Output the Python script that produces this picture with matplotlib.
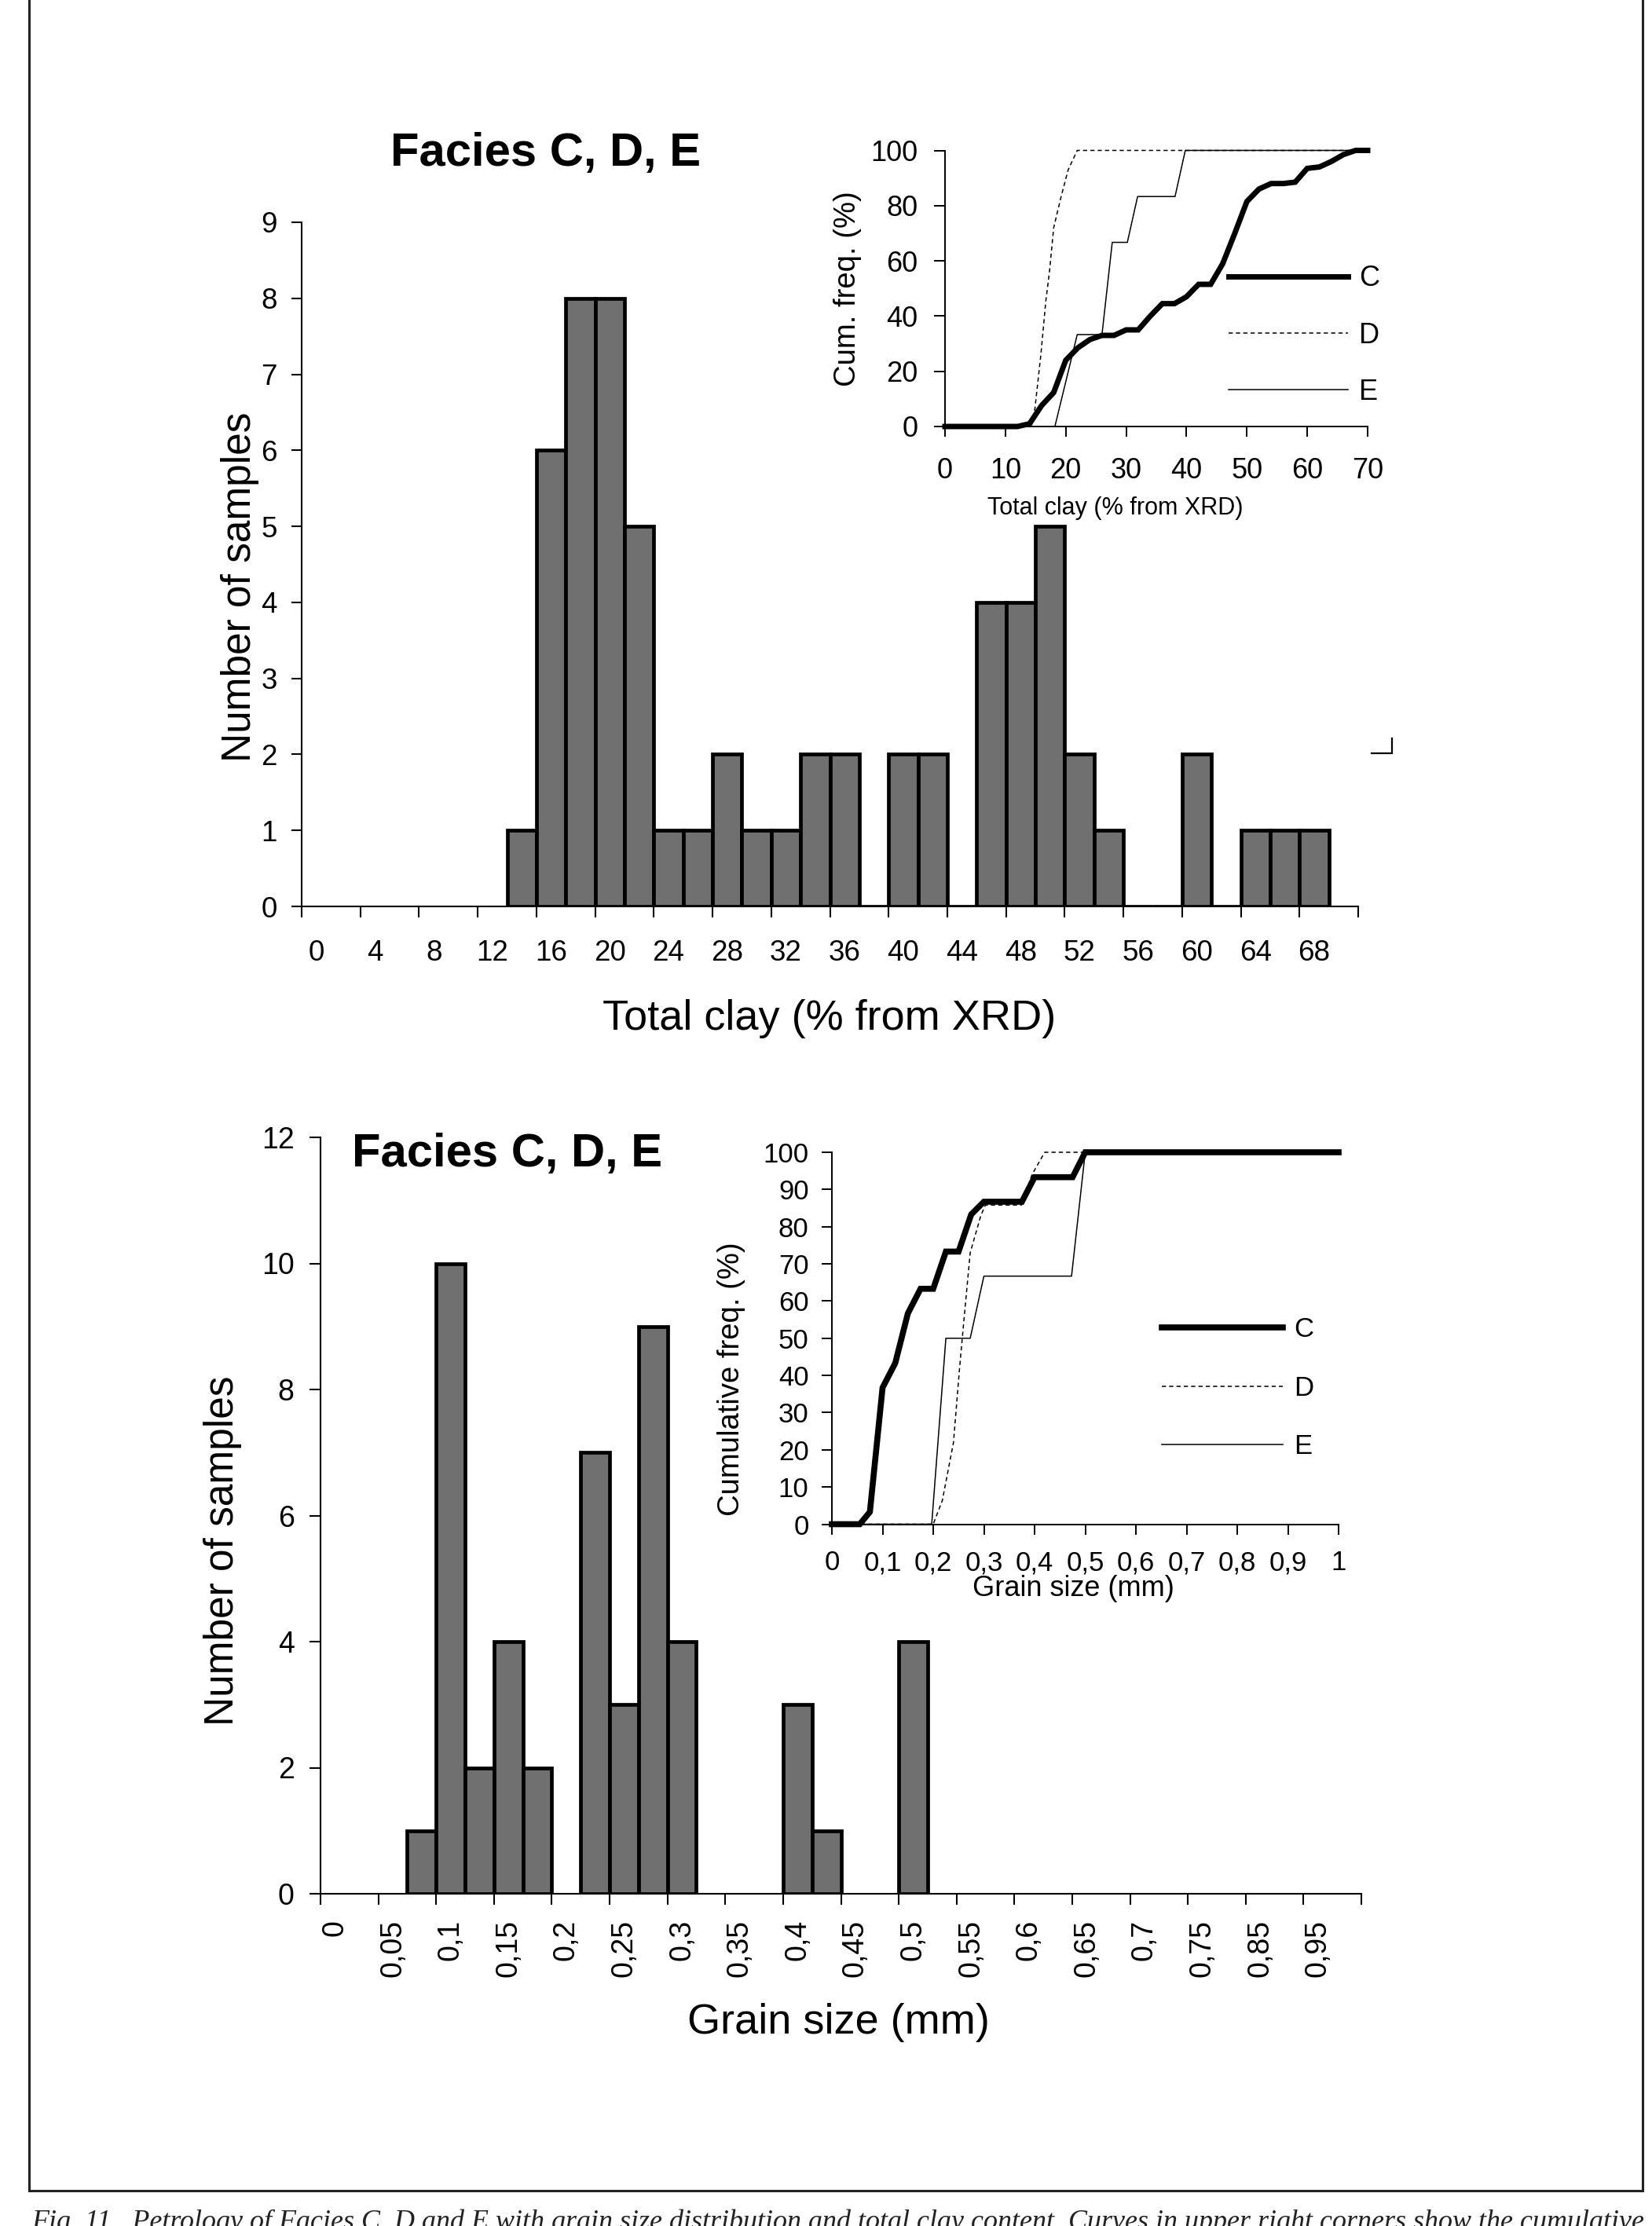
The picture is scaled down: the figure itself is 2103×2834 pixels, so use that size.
import numpy as np
import matplotlib
matplotlib.use('Agg')
import matplotlib.pyplot as plt
from matplotlib.lines import Line2D

# ---------------- data ----------------
clay_bin_starts = [14, 16, 18, 20, 22, 24, 26, 28, 30, 32, 34, 36, 38, 40, 42, 44,
                   46, 48, 50, 52, 54, 56, 58, 60, 62, 64, 66, 68]
clay_counts = [1, 6, 8, 8, 5, 1, 1, 2, 1, 1, 2, 2, 0, 2, 2, 0,
               4, 4, 5, 2, 1, 0, 0, 2, 0, 1, 1, 1]
clay_bin_width = 2
clay_tick_labels = ['0', '4', '8', '12', '16', '20', '24', '28', '32', '36', '40',
                    '44', '48', '52', '56', '60', '64', '68']

grain_bin_starts = [0.075, 0.1, 0.125, 0.15, 0.175, 0.225, 0.25, 0.275, 0.3,
                    0.4, 0.425, 0.5]
grain_counts = [1, 10, 2, 4, 2, 7, 3, 9, 4, 3, 1, 4]
grain_bin_width = 0.025
grain_tick_labels = ['0', '0,05', '0,1', '0,15', '0,2', '0,25', '0,3', '0,35', '0,4',
                     '0,45', '0,5', '0,55', '0,6', '0,65', '0,7', '0,75', '0,85', '0,95']

# cumulative curves, clay inset
clay_C_x = [0, 12, 14, 16, 18, 20, 22, 24, 26, 28, 30, 32, 34, 36, 38, 40, 42, 44,
            46, 48, 50, 52, 54, 56, 58, 60, 62, 64, 66, 68, 70]
clay_C_y = [0, 0, 1, 7.6, 12.3, 24, 28.5, 31.5, 33, 33, 35, 35, 40, 44.5, 44.5, 47,
            51.5, 51.5, 59, 70, 81.5, 86, 88, 88, 88.5, 93.5, 94, 96, 98.5, 100, 100]
clay_D_x = [0, 14.3, 14.9, 15.9, 16.7, 17.3, 18.0, 19.2, 20.4, 21.9, 70]
clay_D_y = [0, 0, 6.6, 26.5, 45.5, 56, 72, 83, 93, 100, 100]
clay_E_x = [0, 18.2, 21.9, 26, 27.7, 30.2, 31.9, 38.1, 39.8, 70]
clay_E_y = [0, 0, 33.3, 33.3, 66.7, 66.7, 83.3, 83.3, 100, 100]
clay_inset_xticks = [0, 10, 20, 30, 40, 50, 60, 70]
clay_inset_yticks = [0, 20, 40, 60, 80, 100]

# cumulative curves, grain inset
grain_C_x = [0, 0.055, 0.075, 0.1, 0.125, 0.15, 0.175, 0.2, 0.225, 0.25, 0.275, 0.3,
             0.375, 0.4, 0.475, 0.5, 1.0]
grain_C_y = [0, 0, 3.3, 36.7, 43.3, 56.7, 63.3, 63.3, 73.3, 73.3, 83.3, 86.7,
             86.7, 93.3, 93.3, 100, 100]
grain_D_x = [0, 0.2, 0.218, 0.24, 0.252, 0.26, 0.273, 0.294, 0.303, 0.374, 0.395, 0.42, 1.0]
grain_D_y = [0, 0, 6.4, 22, 42, 54, 73, 83, 85.8, 85.8, 94, 100, 100]
grain_E_x = [0, 0.197, 0.225, 0.273, 0.3, 0.473, 0.5, 1.0]
grain_E_y = [0, 0, 50, 50, 66.7, 66.7, 100, 100]
grain_inset_xticks = [0, 0.1, 0.2, 0.3, 0.4, 0.5, 0.6, 0.7, 0.8, 0.9, 1.0]
grain_inset_xlabels = ['0', '0,1', '0,2', '0,3', '0,4', '0,5', '0,6', '0,7', '0,8', '0,9', '1']
grain_inset_yticks = [0, 10, 20, 30, 40, 50, 60, 70, 80, 90, 100]

series_names = ['C', 'D', 'E']

caption = ("Fig. 11.  Petrology of Facies C, D and E with grain size distribution and total "
           "clay content. Curves in upper right corners show the cumulative")

# ---------------- layout helpers ----------------
W, H = 2103, 2834
plt.rcParams['font.family'] = ['Liberation Sans', 'DejaVu Sans']
fig = plt.figure(figsize=(W / 100, H / 100), dpi=100)
fig.patch.set_facecolor('white')


def rect(L, R, T, B):
    return [L / W, 1 - B / H, (R - L) / W, (B - T) / H]


BAR_FC = '#707070'


def style_axes(ax, lw=1.5):
    for s in ['top', 'right']:
        ax.spines[s].set_visible(False)
    for s in ['left', 'bottom']:
        ax.spines[s].set_linewidth(lw)
        ax.spines[s].set_color('black')
    ax.patch.set_alpha(0)


# ---------------- top histogram ----------------
ax1 = fig.add_axes(rect(384, 1729, 283, 1154))
style_axes(ax1)
ax1.bar(clay_bin_starts, clay_counts, width=clay_bin_width, align='edge',
        color=BAR_FC, edgecolor='black', linewidth=3.4, zorder=3)
ax1.set_xlim(0, 72)
ax1.set_ylim(0, 9)
ax1.set_xticks(np.arange(0, 73, 4))
ax1.set_xticklabels([''] * len(np.arange(0, 73, 4)))
ax1.set_xticks(np.arange(1, 70, 4), clay_tick_labels, minor=True)
ax1.set_yticks(range(0, 10))
ax1.tick_params(axis='x', which='major', length=10, width=1.5, direction='out')
ax1.tick_params(axis='x', which='minor', length=0, pad=30, labelsize=26.5)
ax1.tick_params(axis='y', which='major', length=9.5, width=1.5, pad=13, labelsize=26.5)
ax1.set_ylabel('Number of samples', fontsize=37, va='center')
ax1.yaxis.set_label_coords(-0.058, 0.467)
ax1.set_xlabel('Total clay (% from XRD)', fontsize=39, va='center')
ax1.xaxis.set_label_coords(0.4996, -0.164)
ax1.text(0.084, 1.101, 'Facies C, D, E', transform=ax1.transAxes, fontsize=43,
         fontweight='bold', ha='left', va='center')

# ---------------- top inset ----------------
ax2 = fig.add_axes(rect(1203, 1741, 191.5, 543))
style_axes(ax2, lw=1.4)
lC, = ax2.plot(clay_C_x, clay_C_y, color='black', lw=5.0, solid_joinstyle='miter',
               clip_on=False, zorder=5)
lD, = ax2.plot(clay_D_x, clay_D_y, color='black', lw=1.1, ls=(0, (3.5, 2.6)),
               clip_on=False, zorder=4)
lE, = ax2.plot(clay_E_x, clay_E_y, color='black', lw=1.1, clip_on=False, zorder=4)
ax2.set_xlim(0, 70)
ax2.set_ylim(0, 100)
ax2.set_xticks(clay_inset_xticks)
ax2.set_yticks(clay_inset_yticks)
ax2.tick_params(axis='x', length=9.4, width=1.4, pad=19, labelsize=26)
ax2.tick_params(axis='y', length=10, width=1.4, pad=15, labelsize=26)
ax2.set_ylabel('Cum. freq. (%)', fontsize=27.5, va='center')
ax2.yaxis.set_label_coords(-0.2305, 0.498)
ax2.set_xlabel('Total clay (% from XRD)', fontsize=22, va='center')
ax2.xaxis.set_label_coords(0.403, -0.296)
leg2 = ax2.legend([lC, lD, lE], series_names, loc='center left',
                  bbox_to_anchor=(0.671, 0.33), frameon=False, fontsize=26,
                  handlelength=4.2, handletextpad=0.4, labelspacing=1.03,
                  borderpad=0, borderaxespad=0)

# ---------------- bottom histogram ----------------
ax3 = fig.add_axes(rect(408, 1733, 1448, 2411))
style_axes(ax3)
ax3.bar(grain_bin_starts, grain_counts, width=grain_bin_width, align='edge',
        color=BAR_FC, edgecolor='black', linewidth=3.4, zorder=3)
ax3.set_xlim(0, 0.9)
ax3.set_ylim(0, 12)
major_g = np.linspace(0, 0.9, 19)
ax3.set_xticks(major_g)
ax3.set_xticklabels([''] * len(major_g))
ax3.set_xticks(0.0125 + 0.05 * np.arange(len(grain_tick_labels)), grain_tick_labels,
               minor=True, rotation=90)
ax3.set_yticks(range(0, 13, 2))
ax3.tick_params(axis='x', which='major', length=10, width=1.5, direction='out')
ax3.tick_params(axis='x', which='minor', length=0, pad=23.5, labelsize=27)
ax3.tick_params(axis='y', which='major', length=10, width=1.5, pad=14, labelsize=27)
ax3.set_ylabel('Number of samples', fontsize=37, va='center')
ax3.yaxis.set_label_coords(-0.0936, 0.4538)
ax3.set_xlabel('Grain size (mm)', fontsize=39, va='center')
ax3.xaxis.set_label_coords(0.498, -0.1703)
ax3.text(0.0302, 0.978, 'Facies C, D, E', transform=ax3.transAxes, fontsize=43,
         fontweight='bold', ha='left', va='center')

# ---------------- bottom inset ----------------
ax4 = fig.add_axes(rect(1059, 1704, 1467, 1940.5))
style_axes(ax4, lw=1.4)
gC, = ax4.plot(grain_C_x, grain_C_y, color='black', lw=5.5, solid_joinstyle='miter',
               clip_on=False, zorder=5)
gD, = ax4.plot(grain_D_x, grain_D_y, color='black', lw=1.1, ls=(0, (3.5, 2.6)),
               clip_on=False, zorder=4)
gE, = ax4.plot(grain_E_x, grain_E_y, color='black', lw=1.1, clip_on=False, zorder=4)
ax4.set_xlim(0, 1)
ax4.set_ylim(0, 100)
ax4.set_xticks(grain_inset_xticks, grain_inset_xlabels)
ax4.set_yticks(grain_inset_yticks)
ax4.tick_params(axis='x', length=9.5, width=1.4, pad=14, labelsize=25)
ax4.tick_params(axis='y', length=9.7, width=1.4, pad=11.5, labelsize=25)
ax4.set_ylabel('Cumulative freq. (%)', fontsize=27.5, va='center')
ax4.yaxis.set_label_coords(-0.1977, 0.3897)
ax4.set_xlabel('Grain size (mm)', fontsize=26, va='center')
ax4.xaxis.set_label_coords(0.476, -0.174)
leg4 = ax4.legend([gC, gD, gE], series_names, loc='center left',
                  bbox_to_anchor=(0.651, 0.366), frameon=False, fontsize=25,
                  handlelength=4.45, handletextpad=0.4, labelspacing=1.2,
                  borderpad=0, borderaxespad=0)

# ---------------- page frame, corner mark, caption ----------------
def fx(x):
    return x / W


def fy(y):
    return 1 - y / H


frame = Line2D([fx(37), fx(37), fx(2091), fx(2091)], [fy(-10), fy(2789), fy(2789), fy(-10)],
               transform=fig.transFigure, color='#222222', lw=2.2, solid_joinstyle='miter')
fig.add_artist(frame)
corner = Line2D([fx(1746), fx(1772), fx(1772)], [fy(959), fy(959), fy(940)],
                transform=fig.transFigure, color='black', lw=1.6, solid_joinstyle='miter')
fig.add_artist(corner)

cap = fig.text(fx(40), fy(2812), caption, ha='left', va='top', fontsize=26,
               family=['Liberation Serif', 'DejaVu Serif'], style='italic', color='#222222')
fig.canvas.draw()
bb = cap.get_window_extent()
cap.set_fontsize(26 * (2052 / bb.width))

fig.savefig('out.png', dpi=100, facecolor='white')
